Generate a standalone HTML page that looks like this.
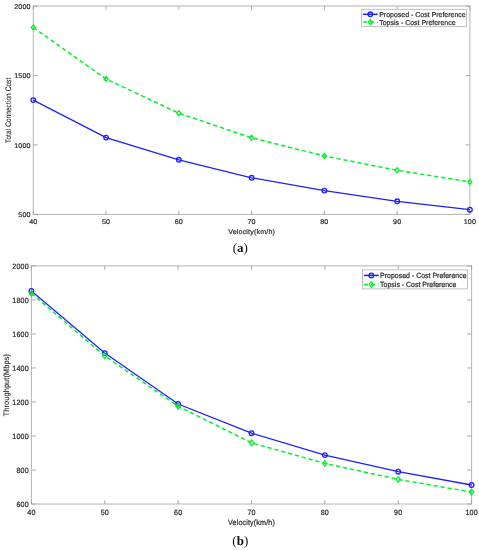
<!DOCTYPE html>
<html><head><meta charset="utf-8"><style>
html,body{margin:0;padding:0;background:#fff;width:479px;height:550px;overflow:hidden}
svg{display:block}
text{text-rendering:geometricPrecision;font-family:"Liberation Sans",Arial,sans-serif;font-size:7.7px;fill:#2a2a2a;letter-spacing:0.15px;stroke:#2a2a2a;stroke-width:0.22px}
text.leg{font-size:7.5px;letter-spacing:0}
text.yl{stroke-width:0.12px}
text.cap{font-family:"Liberation Serif","Times New Roman",serif;font-size:13px;fill:#111;letter-spacing:0;stroke:none}
</style></head><body>
<svg width="479" height="550" viewBox="0 0 479 550">
<rect width="479" height="550" fill="#fff"/>
<rect x="33.3" y="6.0" width="436.59999999999997" height="208.4" fill="none" stroke="#b4b4b4" stroke-width="1"/>
<line x1="33.30" y1="214.4" x2="33.30" y2="210.6" stroke="#a2a2a2" stroke-width="0.9"/>
<line x1="33.30" y1="6.0" x2="33.30" y2="9.8" stroke="#a2a2a2" stroke-width="0.9"/>
<text transform="translate(33.30 224.20) scale(0.93 0.890)" text-anchor="middle">40</text>
<line x1="106.07" y1="214.4" x2="106.07" y2="210.6" stroke="#a2a2a2" stroke-width="0.9"/>
<line x1="106.07" y1="6.0" x2="106.07" y2="9.8" stroke="#a2a2a2" stroke-width="0.9"/>
<text transform="translate(106.07 224.20) scale(0.93 0.890)" text-anchor="middle">50</text>
<line x1="178.83" y1="214.4" x2="178.83" y2="210.6" stroke="#a2a2a2" stroke-width="0.9"/>
<line x1="178.83" y1="6.0" x2="178.83" y2="9.8" stroke="#a2a2a2" stroke-width="0.9"/>
<text transform="translate(178.83 224.20) scale(0.93 0.890)" text-anchor="middle">60</text>
<line x1="251.60" y1="214.4" x2="251.60" y2="210.6" stroke="#a2a2a2" stroke-width="0.9"/>
<line x1="251.60" y1="6.0" x2="251.60" y2="9.8" stroke="#a2a2a2" stroke-width="0.9"/>
<text transform="translate(251.60 224.20) scale(0.93 0.890)" text-anchor="middle">70</text>
<line x1="324.37" y1="214.4" x2="324.37" y2="210.6" stroke="#a2a2a2" stroke-width="0.9"/>
<line x1="324.37" y1="6.0" x2="324.37" y2="9.8" stroke="#a2a2a2" stroke-width="0.9"/>
<text transform="translate(324.37 224.20) scale(0.93 0.890)" text-anchor="middle">80</text>
<line x1="397.13" y1="214.4" x2="397.13" y2="210.6" stroke="#a2a2a2" stroke-width="0.9"/>
<line x1="397.13" y1="6.0" x2="397.13" y2="9.8" stroke="#a2a2a2" stroke-width="0.9"/>
<text transform="translate(397.13 224.20) scale(0.93 0.890)" text-anchor="middle">90</text>
<line x1="469.90" y1="214.4" x2="469.90" y2="210.6" stroke="#a2a2a2" stroke-width="0.9"/>
<line x1="469.90" y1="6.0" x2="469.90" y2="9.8" stroke="#a2a2a2" stroke-width="0.9"/>
<text transform="translate(469.90 224.20) scale(0.93 0.890)" text-anchor="middle">100</text>
<line x1="33.3" y1="214.40" x2="37.699999999999996" y2="214.40" stroke="#a2a2a2" stroke-width="0.9"/>
<line x1="469.9" y1="214.40" x2="465.5" y2="214.40" stroke="#a2a2a2" stroke-width="0.9"/>
<text transform="translate(30.70 217.10) scale(0.93 0.890)" text-anchor="end">500</text>
<line x1="33.3" y1="144.93" x2="37.699999999999996" y2="144.93" stroke="#a2a2a2" stroke-width="0.9"/>
<line x1="469.9" y1="144.93" x2="465.5" y2="144.93" stroke="#a2a2a2" stroke-width="0.9"/>
<text transform="translate(30.70 147.63) scale(0.93 0.890)" text-anchor="end">1000</text>
<line x1="33.3" y1="75.47" x2="37.699999999999996" y2="75.47" stroke="#a2a2a2" stroke-width="0.9"/>
<line x1="469.9" y1="75.47" x2="465.5" y2="75.47" stroke="#a2a2a2" stroke-width="0.9"/>
<text transform="translate(30.70 78.17) scale(0.93 0.890)" text-anchor="end">1500</text>
<line x1="33.3" y1="6.00" x2="37.699999999999996" y2="6.00" stroke="#a2a2a2" stroke-width="0.9"/>
<line x1="469.9" y1="6.00" x2="465.5" y2="6.00" stroke="#a2a2a2" stroke-width="0.9"/>
<text transform="translate(30.70 8.70) scale(0.93 0.890)" text-anchor="end">2000</text>
<text transform="translate(10.90 110.30) scale(1.03 0.832) rotate(-90)" text-anchor="middle" class="yl">Total Connection Cost</text>
<text transform="translate(251.60 233.50) scale(0.93 0.890)" text-anchor="middle">Velocity(km/h)</text>
<polyline points="33.3,100.1 106.1,137.6 178.8,159.8 251.6,177.8 324.4,190.6 397.2,201.3 469.9,209.7" fill="none" stroke="#1e1eff" stroke-width="1.28"/>
<circle cx="33.3" cy="100.1" r="2.3" fill="none" stroke="#1e1eff" stroke-width="1.3"/>
<circle cx="106.1" cy="137.6" r="2.3" fill="none" stroke="#1e1eff" stroke-width="1.3"/>
<circle cx="178.8" cy="159.8" r="2.3" fill="none" stroke="#1e1eff" stroke-width="1.3"/>
<circle cx="251.6" cy="177.8" r="2.3" fill="none" stroke="#1e1eff" stroke-width="1.3"/>
<circle cx="324.4" cy="190.6" r="2.3" fill="none" stroke="#1e1eff" stroke-width="1.3"/>
<circle cx="397.2" cy="201.3" r="2.3" fill="none" stroke="#1e1eff" stroke-width="1.3"/>
<circle cx="469.9" cy="209.7" r="2.3" fill="none" stroke="#1e1eff" stroke-width="1.3"/>
<polyline points="33.3,27.5 106.1,79.0 178.8,113.2 251.6,137.8 324.4,156.0 397.2,170.3 469.9,181.9" fill="none" stroke="#00f028" stroke-width="1.5" stroke-dasharray="4.2 2.9"/>
<path d="M33.3 24.96L35.4 27.5L33.3 30.04L31.199999999999996 27.5Z" fill="none" stroke="#00f028" stroke-width="1.25"/>
<path d="M106.1 76.46L108.19999999999999 79.0L106.1 81.54L104.0 79.0Z" fill="none" stroke="#00f028" stroke-width="1.25"/>
<path d="M178.8 110.66L180.9 113.2L178.8 115.74L176.70000000000002 113.2Z" fill="none" stroke="#00f028" stroke-width="1.25"/>
<path d="M251.6 135.26L253.7 137.8L251.6 140.34L249.5 137.8Z" fill="none" stroke="#00f028" stroke-width="1.25"/>
<path d="M324.4 153.46L326.5 156.0L324.4 158.54L322.29999999999995 156.0Z" fill="none" stroke="#00f028" stroke-width="1.25"/>
<path d="M397.2 167.76L399.3 170.3L397.2 172.84L395.09999999999997 170.3Z" fill="none" stroke="#00f028" stroke-width="1.25"/>
<path d="M469.9 179.36L472.0 181.9L469.9 184.44L467.79999999999995 181.9Z" fill="none" stroke="#00f028" stroke-width="1.25"/>
<rect x="361.5" y="9.3" width="104.89999999999998" height="17.2" fill="#fff" stroke="#b4b4b4" stroke-width="0.8"/>
<line x1="363.0" y1="14.3" x2="377.7" y2="14.3" stroke="#1e1eff" stroke-width="1.5"/>
<circle cx="370.35" cy="14.3" r="2.3" fill="none" stroke="#1e1eff" stroke-width="1.3"/>
<line x1="363.0" y1="22.1" x2="377.7" y2="22.1" stroke="#00f028" stroke-width="1.5" stroke-dasharray="4 3"/>
<path d="M370.35 19.56L372.45000000000005 22.1L370.35 24.64L368.25 22.1Z" fill="none" stroke="#00f028" stroke-width="1.25"/>
<text transform="translate(379.20 16.70) scale(0.93 0.950)" class="leg">Proposed - Cost Preference</text>
<text transform="translate(379.20 24.50) scale(0.93 0.950)" class="leg">Topsis - Cost Preference</text>
<text x="240.3" y="251.9" text-anchor="middle" class="cap">(<tspan font-weight="bold">a</tspan>)</text>
<rect x="31.4" y="265.9" width="440.20000000000005" height="238.10000000000002" fill="none" stroke="#b4b4b4" stroke-width="1"/>
<line x1="31.40" y1="504.0" x2="31.40" y2="500.2" stroke="#a2a2a2" stroke-width="0.9"/>
<line x1="31.40" y1="265.9" x2="31.40" y2="269.7" stroke="#a2a2a2" stroke-width="0.9"/>
<text transform="translate(31.40 514.90) scale(0.93 1.000)" text-anchor="middle">40</text>
<line x1="104.77" y1="504.0" x2="104.77" y2="500.2" stroke="#a2a2a2" stroke-width="0.9"/>
<line x1="104.77" y1="265.9" x2="104.77" y2="269.7" stroke="#a2a2a2" stroke-width="0.9"/>
<text transform="translate(104.77 514.90) scale(0.93 1.000)" text-anchor="middle">50</text>
<line x1="178.13" y1="504.0" x2="178.13" y2="500.2" stroke="#a2a2a2" stroke-width="0.9"/>
<line x1="178.13" y1="265.9" x2="178.13" y2="269.7" stroke="#a2a2a2" stroke-width="0.9"/>
<text transform="translate(178.13 514.90) scale(0.93 1.000)" text-anchor="middle">60</text>
<line x1="251.50" y1="504.0" x2="251.50" y2="500.2" stroke="#a2a2a2" stroke-width="0.9"/>
<line x1="251.50" y1="265.9" x2="251.50" y2="269.7" stroke="#a2a2a2" stroke-width="0.9"/>
<text transform="translate(251.50 514.90) scale(0.93 1.000)" text-anchor="middle">70</text>
<line x1="324.87" y1="504.0" x2="324.87" y2="500.2" stroke="#a2a2a2" stroke-width="0.9"/>
<line x1="324.87" y1="265.9" x2="324.87" y2="269.7" stroke="#a2a2a2" stroke-width="0.9"/>
<text transform="translate(324.87 514.90) scale(0.93 1.000)" text-anchor="middle">80</text>
<line x1="398.23" y1="504.0" x2="398.23" y2="500.2" stroke="#a2a2a2" stroke-width="0.9"/>
<line x1="398.23" y1="265.9" x2="398.23" y2="269.7" stroke="#a2a2a2" stroke-width="0.9"/>
<text transform="translate(398.23 514.90) scale(0.93 1.000)" text-anchor="middle">90</text>
<line x1="471.60" y1="504.0" x2="471.60" y2="500.2" stroke="#a2a2a2" stroke-width="0.9"/>
<line x1="471.60" y1="265.9" x2="471.60" y2="269.7" stroke="#a2a2a2" stroke-width="0.9"/>
<text transform="translate(471.60 514.90) scale(0.93 1.000)" text-anchor="middle">100</text>
<line x1="31.4" y1="504.00" x2="35.8" y2="504.00" stroke="#a2a2a2" stroke-width="0.9"/>
<line x1="471.6" y1="504.00" x2="467.20000000000005" y2="504.00" stroke="#a2a2a2" stroke-width="0.9"/>
<text transform="translate(28.80 506.90) scale(0.93 1.000)" text-anchor="end">600</text>
<line x1="31.4" y1="469.99" x2="35.8" y2="469.99" stroke="#a2a2a2" stroke-width="0.9"/>
<line x1="471.6" y1="469.99" x2="467.20000000000005" y2="469.99" stroke="#a2a2a2" stroke-width="0.9"/>
<text transform="translate(28.80 472.89) scale(0.93 1.000)" text-anchor="end">800</text>
<line x1="31.4" y1="435.97" x2="35.8" y2="435.97" stroke="#a2a2a2" stroke-width="0.9"/>
<line x1="471.6" y1="435.97" x2="467.20000000000005" y2="435.97" stroke="#a2a2a2" stroke-width="0.9"/>
<text transform="translate(28.80 438.87) scale(0.93 1.000)" text-anchor="end">1000</text>
<line x1="31.4" y1="401.96" x2="35.8" y2="401.96" stroke="#a2a2a2" stroke-width="0.9"/>
<line x1="471.6" y1="401.96" x2="467.20000000000005" y2="401.96" stroke="#a2a2a2" stroke-width="0.9"/>
<text transform="translate(28.80 404.86) scale(0.93 1.000)" text-anchor="end">1200</text>
<line x1="31.4" y1="367.94" x2="35.8" y2="367.94" stroke="#a2a2a2" stroke-width="0.9"/>
<line x1="471.6" y1="367.94" x2="467.20000000000005" y2="367.94" stroke="#a2a2a2" stroke-width="0.9"/>
<text transform="translate(28.80 370.84) scale(0.93 1.000)" text-anchor="end">1400</text>
<line x1="31.4" y1="333.93" x2="35.8" y2="333.93" stroke="#a2a2a2" stroke-width="0.9"/>
<line x1="471.6" y1="333.93" x2="467.20000000000005" y2="333.93" stroke="#a2a2a2" stroke-width="0.9"/>
<text transform="translate(28.80 336.83) scale(0.93 1.000)" text-anchor="end">1600</text>
<line x1="31.4" y1="299.91" x2="35.8" y2="299.91" stroke="#a2a2a2" stroke-width="0.9"/>
<line x1="471.6" y1="299.91" x2="467.20000000000005" y2="299.91" stroke="#a2a2a2" stroke-width="0.9"/>
<text transform="translate(28.80 302.81) scale(0.93 1.000)" text-anchor="end">1800</text>
<line x1="31.4" y1="265.90" x2="35.8" y2="265.90" stroke="#a2a2a2" stroke-width="0.9"/>
<line x1="471.6" y1="265.90" x2="467.20000000000005" y2="265.90" stroke="#a2a2a2" stroke-width="0.9"/>
<text transform="translate(28.80 268.80) scale(0.93 1.000)" text-anchor="end">2000</text>
<text transform="translate(8.60 385.15) scale(1.03 0.950) rotate(-90)" text-anchor="middle" class="yl">Throughput(Mbps)</text>
<text transform="translate(251.50 524.80) scale(0.93 1.000)" text-anchor="middle">Velocity(km/h)</text>
<polyline points="31.4,290.9 104.77,353.1 178.13,404.0 251.5,433.2 324.87,455.1 398.23,471.7 471.6,485.0" fill="none" stroke="#1e1eff" stroke-width="1.28"/>
<circle cx="31.4" cy="290.9" r="2.3" fill="none" stroke="#1e1eff" stroke-width="1.3"/>
<circle cx="104.77" cy="353.1" r="2.3" fill="none" stroke="#1e1eff" stroke-width="1.3"/>
<circle cx="178.13" cy="404.0" r="2.3" fill="none" stroke="#1e1eff" stroke-width="1.3"/>
<circle cx="251.5" cy="433.2" r="2.3" fill="none" stroke="#1e1eff" stroke-width="1.3"/>
<circle cx="324.87" cy="455.1" r="2.3" fill="none" stroke="#1e1eff" stroke-width="1.3"/>
<circle cx="398.23" cy="471.7" r="2.3" fill="none" stroke="#1e1eff" stroke-width="1.3"/>
<circle cx="471.6" cy="485.0" r="2.3" fill="none" stroke="#1e1eff" stroke-width="1.3"/>
<polyline points="31.4,293.4 104.77,355.9 178.13,406.3 251.5,442.8 324.87,463.4 398.23,479.4 471.6,492.1" fill="none" stroke="#00f028" stroke-width="1.5" stroke-dasharray="4.2 2.9"/>
<path d="M31.4 290.55L33.5 293.4L31.4 296.25L29.299999999999997 293.4Z" fill="none" stroke="#00f028" stroke-width="1.25"/>
<path d="M104.77 353.05L106.86999999999999 355.9L104.77 358.75L102.67 355.9Z" fill="none" stroke="#00f028" stroke-width="1.25"/>
<path d="M178.13 403.45L180.23 406.3L178.13 409.15L176.03 406.3Z" fill="none" stroke="#00f028" stroke-width="1.25"/>
<path d="M251.5 439.95L253.6 442.8L251.5 445.65L249.4 442.8Z" fill="none" stroke="#00f028" stroke-width="1.25"/>
<path d="M324.87 460.55L326.97 463.4L324.87 466.25L322.77 463.4Z" fill="none" stroke="#00f028" stroke-width="1.25"/>
<path d="M398.23 476.55L400.33000000000004 479.4L398.23 482.25L396.13 479.4Z" fill="none" stroke="#00f028" stroke-width="1.25"/>
<path d="M471.6 489.25L473.70000000000005 492.1L471.6 494.95L469.5 492.1Z" fill="none" stroke="#00f028" stroke-width="1.25"/>
<rect x="362.5" y="269.9" width="105.10000000000002" height="19.0" fill="#fff" stroke="#b4b4b4" stroke-width="0.8"/>
<line x1="364.0" y1="275.4" x2="378.6" y2="275.4" stroke="#1e1eff" stroke-width="1.5"/>
<circle cx="371.3" cy="275.4" r="2.3" fill="none" stroke="#1e1eff" stroke-width="1.3"/>
<line x1="364.0" y1="284.4" x2="378.6" y2="284.4" stroke="#00f028" stroke-width="1.5" stroke-dasharray="4 3"/>
<path d="M371.3 281.55L373.40000000000003 284.4L371.3 287.25L369.2 284.4Z" fill="none" stroke="#00f028" stroke-width="1.25"/>
<text transform="translate(380.10 277.80) scale(0.93 1.000)" class="leg">Proposed - Cost Preference</text>
<text transform="translate(380.10 286.80) scale(0.93 1.000)" class="leg">Topsis - Cost Preference</text>
<text x="240.3" y="544.5" text-anchor="middle" class="cap">(<tspan font-weight="bold">b</tspan>)</text>
</svg>
</body></html>
